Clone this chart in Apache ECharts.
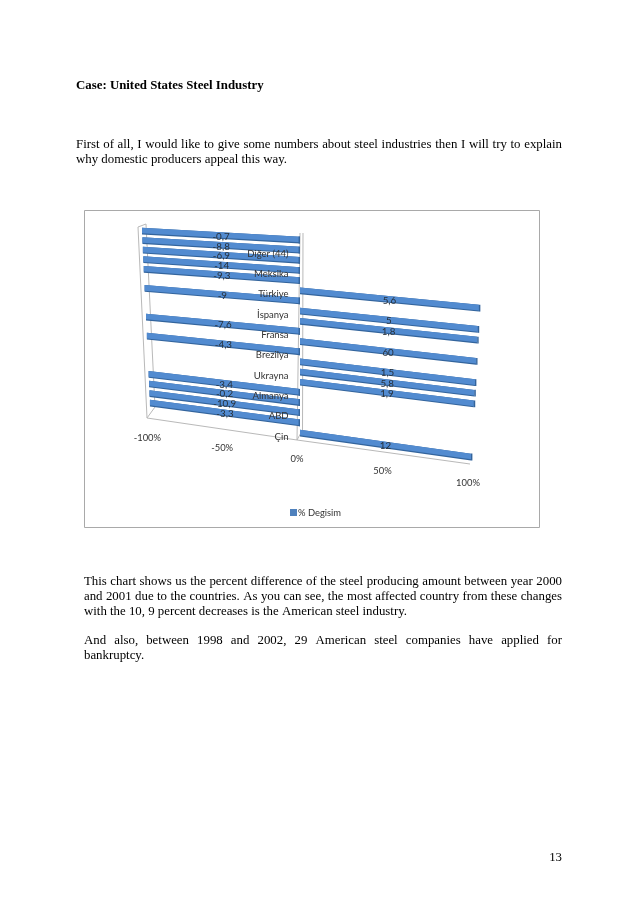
<!DOCTYPE html>
<html>
<head>
<meta charset="utf-8">
<style>html,body{margin:0;padding:0;background:#fff}#c{width:638px;height:903px;filter:blur(0.45px)}</style>
<script src="https://cdn.jsdelivr.net/npm/echarts@6/dist/echarts.min.js"></script>
</head>
<body>
<div id="c"></div>
<script>
// Rows run bottom to top. Only every second category is named in the picture.
const categories = ['Çin','','ABD','','Almanya','','Ukrayna','','Brezilya','','Fransa','','İspanya','','Türkiye','','Meksika','','Diğer (44)',''];
const values = [12,-3.3,-10.9,-0.2,-3.4,1.9,5.8,1.5,-4.3,60,-7.6,1.8,5,-9,5.6,-9.3,-14,-6.9,-8.8,-0.7];
const xTicks = [-100,-50,0,50,100];
const seriesName = '% Degisim';

const title = 'Case: United States Steel Industry';
const justifiedLines = [
  ['First of all, I would like to give some numbers about steel industries then I will try to explain',76,145],
  ['This chart shows us the percent difference of the steel producing amount between year 2000',84,582],
  ['and 2001 due to the countries. As you can see, the most affected country from these changes',84,597],
  ['And also, between 1998 and 2002, 29 American steel companies have applied for',84,641]
];
const plainLines = [
  ['why domestic producers appeal this way.',76,160],
  ['with the 10, 9 percent decreases is the American steel industry.',84,612],
  ['bankruptcy.',84,656]
];
const pageNumber = '13';

const SERIF = '"Liberation Serif","Times New Roman",serif';
const SANS = 'Lato,"Open Sans",sans-serif';
const FS = 12.85, RIGHT = 562;
const meas = document.createElement('canvas').getContext('2d');
meas.font = FS + 'px ' + SERIF;

function pageText(t,x,y,extra){
  return {type:'text',x:x,y:y,silent:true,style:Object.assign({text:t,fill:'#000',font:FS+'px '+SERIF,align:'left',verticalAlign:'middle'},extra||{})};
}
function justified(l){
  const words=l[0].split(' ');
  const total=words.reduce((a,w)=>a+meas.measureText(w).width,0);
  const gap=(RIGHT-l[1]-total)/(words.length-1);
  let x=l[1];
  return words.map(w=>{const e=pageText(w,x,l[2]);x+=meas.measureText(w).width+gap;return e;});
}

// perspective of the 3D plot: flat grid coordinates to the page
const GX=150,GW=321,GY=240,GH=190;
function warp(p){
  const u=(p[0]-GX)/GW, t=(GY+GH-p[1])/GH;
  const L=[150.4-8.4*t,412.6-181.6*t], C=[300,433-193*t], R=[471+10.8*t,457-202*t];
  const a=u<0.5?L:C, b=u<0.5?C:R, k=u<0.5?u*2:u*2-1;
  return [a[0]+(b[0]-a[0])*k, a[1]+(b[1]-a[1])*k];
}
function band(a,b,d0,d1){return [[a[0],a[1]+d0],[b[0],b[1]+d0],[b[0],b[1]+d1],[a[0],a[1]+d1]];}
function comma(v){return String(v).replace('.',',');}

const wall='#b9b9b9';
function ln(pts){return {type:'polyline',silent:true,z:0,shape:{points:pts},style:{stroke:wall,lineWidth:1,fill:null}};}

const graphics=[
  {type:'rect',silent:true,z:0,shape:{x:84.5,y:210.5,width:455,height:317},style:{fill:'#fff',stroke:'#a9a9a9',lineWidth:1}},
  ln([[146,224],[138,227],[147,418],[297,440],[470,464]]),
  ln([[146,224],[155,407],[147,418]]),
  ln([[300,233],[297,440],[302.5,430],[303,233]]),
  pageText(title,76,85.5,{font:'bold '+FS+'px '+SERIF}),
  pageText(pageNumber,RIGHT,858,{align:'right'})
];
plainLines.forEach(l=>graphics.push(pageText(l[0],l[1],l[2])));
justifiedLines.forEach(l=>justified(l).forEach(e=>graphics.push(e)));

const option={
  animation:false,
  backgroundColor:'#fff',
  grid:{left:GX,top:GY,width:GW,height:GH,containLabel:false},
  xAxis:{type:'value',min:-100,max:100,interval:50,show:false},
  yAxis:{type:'category',data:categories,boundaryGap:false,show:false},
  legend:{data:[seriesName],left:285,top:503,itemWidth:7,itemHeight:7,itemGap:4,icon:'rect',
    textStyle:{fontFamily:SANS,fontSize:9.4,color:'#333',padding:[0,0,0,-4]}},
  graphic:graphics,
  series:[
    {
      name:seriesName,type:'custom',coordinateSystem:'cartesian2d',clip:false,
      itemStyle:{color:'#4f81bd'},
      encode:{x:0,y:1},
      data:values.map((v,i)=>[v<0?-100:100,i,v]),
      renderItem:function(params,api){
        const end=api.value(0), row=api.value(1), v=api.value(2);
        const a=warp(api.coord([0,row])), b=warp(api.coord([end,row])), m=warp(api.coord([end/2,row]));
        const capX=end<0?a:b;
        return {type:'group',children:[
          {type:'polygon',shape:{points:band(a,b,-3.3,3.4)},style:{fill:'#33649c'}},
          {type:'polygon',shape:{points:band(a,b,-3.3,2.3)},style:{fill:'#528bd0'}},
          {type:'polygon',shape:{points:band(capX,[capX[0]+(end<0?-1.4:1.4),capX[1]],-3.4,3.4)},style:{fill:'#33649c'}},
          {type:'text',z2:20,style:{text:comma(v),x:m[0],y:m[1]+1,align:'center',verticalAlign:'middle',fontFamily:SANS,fontSize:9.8,fill:'#27303a'}}
        ]};
      }
    },
    {
      name:'cats',type:'custom',coordinateSystem:'cartesian2d',clip:false,silent:true,
      encode:{x:0,y:1},
      data:categories.map((c,i)=>[0,i]),
      renderItem:function(params,api){
        const i=api.value(1), p=warp(api.coord([0,i]));
        return {type:'text',z2:20,style:{text:categories[i],x:288.5,y:p[1]+3.5,align:'right',verticalAlign:'middle',fontFamily:SANS,fontSize:9.5,fill:'#333'}};
      }
    },
    {
      name:'ticks',type:'custom',coordinateSystem:'cartesian2d',clip:false,silent:true,
      encode:{x:0,y:1},
      data:xTicks.map(t=>[t,0]),
      renderItem:function(params,api){
        const t=api.value(0), p=warp(api.coord([t,0]));
        return {type:'text',style:{text:t+'%',x:p[0]-3,y:p[1]+25.5,align:'center',verticalAlign:'middle',fontFamily:SANS,fontSize:9.4,fill:'#333'}};
      }
    }
  ]
};
const chart=echarts.init(document.getElementById('c'));
chart.setOption(option);
</script>
</body>
</html>
